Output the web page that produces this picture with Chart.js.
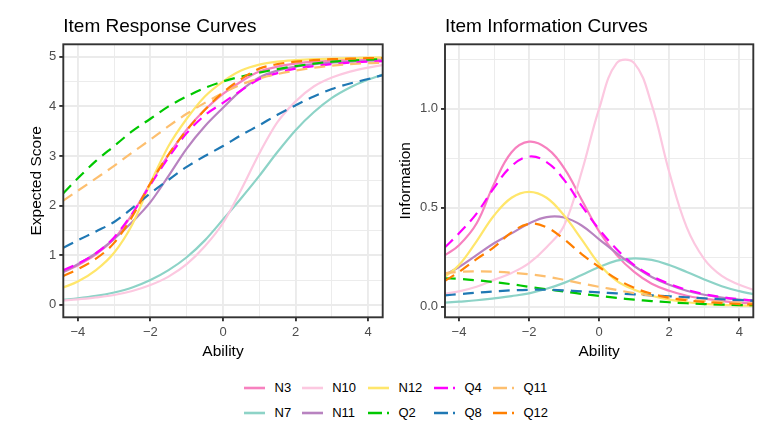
<!DOCTYPE html>
<html>
<head>
<meta charset="utf-8">
<script src="https://cdn.jsdelivr.net/npm/chart.js@4.4.1/dist/chart.umd.min.js"></script>
<style>
  body { margin: 0; background: #fff; font-family: "Liberation Sans", Arial, sans-serif; }
  #wrap { position: relative; width: 766px; height: 429px; overflow: hidden; }
  #scoreChart { position: absolute; left: 0; top: 0; }
  #infoChart { position: absolute; left: 390px; top: 0; }
  .key { position: absolute; display: flex; align-items: center; height: 20px; font-size: 13px; color: #000; white-space: nowrap; }
  .key svg { margin-right: 9.5px; }
</style>
</head>
<body>
<div id="wrap">
  <canvas id="scoreChart" width="390" height="362"></canvas>
  <canvas id="infoChart" width="376" height="362"></canvas>
  <div id="legend"></div>
</div>
<script>
// Ability grid shared by every curve
const ability = [-4.4, -4, -3.5, -3, -2.5, -2, -1.5, -1, -0.5, 0, 0.5, 1, 1.5, 2, 2.5, 3, 3.5, 4, 4.4];

const items = ['N3', 'N7', 'N10', 'N11', 'N12', 'Q2', 'Q4', 'Q8', 'Q11', 'Q12'];

// Expected score curves
const scoreN3  = [0.66, 0.80, 1.02, 1.33, 1.83, 2.45, 3.02, 3.53, 3.93, 4.25, 4.50, 4.70, 4.80, 4.86, 4.90, 4.92, 4.94, 4.95, 4.96];
const scoreN7  = [0.10, 0.13, 0.18, 0.25, 0.35, 0.50, 0.70, 0.96, 1.30, 1.72, 2.15, 2.60, 3.08, 3.52, 3.88, 4.17, 4.38, 4.54, 4.64];
const scoreN10 = [0.09, 0.11, 0.15, 0.20, 0.28, 0.40, 0.57, 0.82, 1.18, 1.65, 2.32, 3.05, 3.68, 4.10, 4.40, 4.58, 4.70, 4.78, 4.83];
const scoreN11 = [0.67, 0.82, 1.04, 1.33, 1.67, 2.07, 2.60, 3.15, 3.60, 3.97, 4.32, 4.58, 4.72, 4.80, 4.85, 4.88, 4.90, 4.92, 4.93];
const scoreN12 = [0.35, 0.47, 0.70, 1.05, 1.62, 2.45, 3.20, 3.75, 4.20, 4.50, 4.72, 4.84, 4.90, 4.93, 4.95, 4.96, 4.97, 4.98, 4.98];
const scoreQ2  = [2.25, 2.55, 2.90, 3.20, 3.50, 3.75, 4.00, 4.20, 4.37, 4.50, 4.60, 4.68, 4.75, 4.81, 4.86, 4.90, 4.92, 4.94, 4.95];
const scoreQ4  = [0.70, 0.83, 1.04, 1.36, 1.84, 2.42, 2.97, 3.46, 3.82, 4.07, 4.32, 4.55, 4.67, 4.76, 4.81, 4.85, 4.88, 4.90, 4.91];
const scoreQ8  = [1.15, 1.30, 1.48, 1.67, 1.95, 2.25, 2.52, 2.78, 3.00, 3.20, 3.42, 3.62, 3.83, 4.02, 4.20, 4.35, 4.46, 4.55, 4.63];
const scoreQ11 = [2.10, 2.30, 2.55, 2.80, 3.07, 3.33, 3.60, 3.85, 4.07, 4.27, 4.44, 4.56, 4.65, 4.72, 4.78, 4.82, 4.85, 4.87, 4.88];
const scoreQ12 = [0.58, 0.72, 0.93, 1.25, 1.78, 2.45, 3.03, 3.52, 3.93, 4.28, 4.55, 4.76, 4.85, 4.90, 4.93, 4.95, 4.96, 4.97, 4.97];

// Item information curves
const infoN3  = [0.26, 0.31, 0.42, 0.62, 0.78, 0.833, 0.80, 0.70, 0.54, 0.38, 0.26, 0.175, 0.115, 0.08, 0.055, 0.04, 0.028, 0.02, 0.016];
const infoN7  = [0.02, 0.025, 0.032, 0.042, 0.053, 0.067, 0.09, 0.12, 0.16, 0.20, 0.232, 0.244, 0.236, 0.21, 0.175, 0.137, 0.103, 0.078, 0.063];
const infoN10 = [0.065, 0.077, 0.10, 0.135, 0.17, 0.22, 0.30, 0.41, 0.68, 1.00, 1.23, 1.23, 1.02, 0.68, 0.40, 0.24, 0.155, 0.11, 0.085];
const infoN11 = [0.16, 0.20, 0.26, 0.32, 0.37, 0.42, 0.452, 0.45, 0.41, 0.34, 0.27, 0.205, 0.15, 0.11, 0.08, 0.06, 0.045, 0.035, 0.028];
const infoN12 = [0.15, 0.21, 0.33, 0.46, 0.55, 0.58, 0.55, 0.46, 0.34, 0.215, 0.13, 0.085, 0.055, 0.035, 0.022, 0.014, 0.009, 0.006, 0.004];
const infoQ2  = [0.143, 0.14, 0.133, 0.124, 0.113, 0.10, 0.088, 0.076, 0.064, 0.054, 0.044, 0.035, 0.028, 0.022, 0.017, 0.013, 0.01, 0.008, 0.007];
const infoQ4  = [0.30, 0.37, 0.47, 0.60, 0.71, 0.758, 0.73, 0.64, 0.51, 0.39, 0.29, 0.21, 0.155, 0.115, 0.085, 0.063, 0.048, 0.037, 0.031];
const infoQ8  = [0.057, 0.063, 0.07, 0.077, 0.082, 0.085, 0.085, 0.082, 0.077, 0.072, 0.067, 0.062, 0.057, 0.052, 0.047, 0.042, 0.037, 0.033, 0.03];
const infoQ11 = [0.168, 0.176, 0.178, 0.176, 0.171, 0.163, 0.152, 0.135, 0.117, 0.10, 0.084, 0.068, 0.055, 0.045, 0.036, 0.029, 0.024, 0.02, 0.017];
const infoQ12 = [0.13, 0.175, 0.24, 0.30, 0.375, 0.418, 0.40, 0.34, 0.265, 0.20, 0.14, 0.095, 0.065, 0.045, 0.032, 0.024, 0.018, 0.013, 0.011];

// Tick labels
const abilityTicks = [-4, -2, 0, 2, 4];
const scoreTicks = [0, 1, 2, 3, 4, 5];
const infoTicks = [0, 0.5, 1.0];

const scoreSeries = [scoreN3, scoreN7, scoreN10, scoreN11, scoreN12, scoreQ2, scoreQ4, scoreQ8, scoreQ11, scoreQ12];
const infoSeries = [infoN3, infoN7, infoN10, infoN11, infoN12, infoQ2, infoQ4, infoQ8, infoQ11, infoQ12];

// styles
const colors = {
    N3: '#F781BF', N7: '#8DD3C7', N10: '#FCC8E0', N11: '#B883C0', N12: '#FFE66B',
    Q2: '#00C800', Q4: '#FF00FF', Q8: '#1F78B4', Q11: '#FDBF6F', Q12: '#FF7F00'
};
const isDashed = name => name.startsWith('Q');

const FONT = '"Liberation Sans", Arial, sans-serif';
const GRID = '#EBEBEB';
const DARK = '#333333';

function near(list, v) {
    return list.some(t => Math.abs(t - v) < 1e-6);
}

function fmtNum(v, digits) {
    const s = Math.abs(v).toFixed(digits);
    return v < 0 ? '\u2212' + s : s;
}

// major + minor grid positions inside [min, max]
function gridValues(min, max, step) {
    const out = [];
    for (let v = Math.ceil(min / step) * step; v <= max + 1e-9; v += step) {
        out.push(Math.round(v * 1000) / 1000);
    }
    return out;
}

const panelBorder = {
    id: 'panelBorder',
    afterDatasetsDraw(chart) {
        const { ctx, chartArea: a } = chart;
        ctx.save();
        ctx.strokeStyle = DARK;
        ctx.lineWidth = 1.9;
        ctx.strokeRect(a.left, a.top, a.right - a.left, a.bottom - a.top);
        ctx.restore();
    }
};

function axis(opts) {
    const major = opts.major;
    const isMajor = c => c.tick && near(major, c.tick.value);
    return {
        type: 'linear',
        min: opts.min,
        max: opts.max,
        border: { display: false },
        grid: {
            color: GRID,
            lineWidth: c => isMajor(c) ? 1.9 : 0.95,
            tickLength: 4,
            tickColor: c => isMajor(c) ? DARK : 'rgba(0,0,0,0)',
            tickWidth: c => isMajor(c) ? 1.9 : 0
        },
        ticks: {
            autoSkip: false,
            maxRotation: 0,
            padding: opts.tickPad,
            color: '#4D4D4D',
            font: { family: FONT, size: 13 },
            callback: v => near(major, v) ? fmtNum(v, opts.digits) : ''
        },
        afterBuildTicks: s => {
            s.ticks = gridValues(opts.min, opts.max, opts.step).map(v => ({ value: v }));
        },
        title: {
            display: true,
            text: opts.title,
            color: '#000',
            font: { family: FONT, size: 15.5 },
            padding: opts.titlePad
        },
        afterFit: opts.fit
    };
}

function makeDatasets(series, smooth) {
    return items.map((name, i) => ({
        label: name,
        data: ability.map((x, j) => ({ x: x, y: series[i][j] })),
        borderColor: colors[name],
        backgroundColor: colors[name],
        borderWidth: 2.2,
        borderDash: isDashed(name) ? [11, 7] : [],
        pointRadius: 0,
        fill: false,
        order: -i,
        tension: 0.4,
        cubicInterpolationMode: smooth
    }));
}

function makeChart(id, title, series, smooth, yWidth, rightPad, yAxis) {
    return new Chart(document.getElementById(id), {
        type: 'line',
        data: { datasets: makeDatasets(series, smooth) },
        options: {
            responsive: false,
            animation: false,
            layout: { padding: { left: 0, right: rightPad, top: 0, bottom: 0 } },
            plugins: {
                legend: { display: false },
                tooltip: { enabled: false },
                title: {
                    display: true,
                    text: title,
                    align: 'start',
                    fullSize: false,
                    color: '#000',
                    font: { family: FONT, size: 19, weight: 'normal' },
                    padding: { top: 15.8, bottom: 5.7 }
                }
            },
            scales: {
                x: axis({
                    min: -4.4, max: 4.4, step: 1, major: abilityTicks, digits: 0,
                    tickPad: 3, title: 'Ability', titlePad: { top: 0, bottom: 0.7 },
                    fit: s => { s.height = 44.7; }
                }),
                y: axis(Object.assign({
                    fit: s => { s.width = yWidth; }
                }, yAxis))
            }
        },
        plugins: [panelBorder]
    });
}

makeChart('scoreChart', 'Item Response Curves', scoreSeries, 'monotone', 63.3, 7.3, {
    min: -0.25, max: 5.25, step: 0.5, major: scoreTicks, digits: 0,
    tickPad: 3, title: 'Expected Score', titlePad: { top: 27.2, bottom: 0 }
});

makeChart('infoChart', 'Item Information Curves', infoSeries, 'default', 55, 12.7, {
    min: -0.054, max: 1.325, step: 0.25, major: infoTicks, digits: 1,
    tickPad: 3, title: 'Information', titlePad: { top: 6.5, bottom: 0 }
});

// Legend: two rows, filled column by column like the original
const legendCols = [244, 301.7, 368, 434, 493];
const legendRows = [387.7, 412.7];
const legend = document.getElementById('legend');
items.forEach((name, i) => {
    const col = Math.floor(i / 2);
    const row = i % 2;
    const div = document.createElement('div');
    div.className = 'key';
    div.style.left = legendCols[col] + 'px';
    div.style.top = (legendRows[row] - 10) + 'px';
    const dash = isDashed(name) ? ' stroke-dasharray="14 5"' : '';
    div.innerHTML = '<svg width="21" height="6"><line x1="0" y1="3" x2="21" y2="3" stroke="' +
        colors[name] + '" stroke-width="2.6"' + dash + '/></svg><span>' + name + '</span>';
    legend.appendChild(div);
});
</script>
</body>
</html>
